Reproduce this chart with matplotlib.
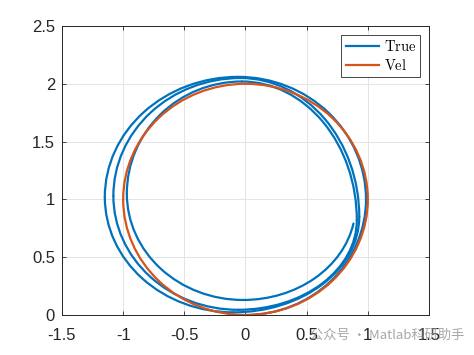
import numpy as np
import matplotlib.pyplot as plt
from matplotlib.patches import Arc
from matplotlib.lines import Line2D

# turning points of the paths (counter-clockwise:
# bottom, right, top, left, bottom, ...)
true_x = [0.00, 0.985, -0.06, -1.15, -0.10, 0.93, -0.04, -1.08, -0.06, 0.91, -0.03, -0.97, -0.02, 0.90]
true_y = [0.00, 1.00, 2.06, 1.02, 0.023, 0.85, 2.05, 1.03, 0.045, 0.82, 2.02, 1.05, 0.13, 0.95]
true_end = (0.89, 0.79)

vel_x = [0.0, 1.0, 0.0, -1.0, 0.0]
vel_y = [0.0, 1.0, 2.0, 1.0, 0.0]

series = ['True', 'Vel']
colors = ['#0072BD', '#D95319']
xticks = [-1.5, -1, -0.5, 0, 0.5, 1, 1.5]
yticks = [0, 0.5, 1, 1.5, 2, 2.5]

LW = 1.6


def draw_path(ax, xs, ys, color, end=None, z=2):
    """join the turning points with quarter ellipses"""
    starts = [270, 0, 90, 180]
    n = len(xs) - 1
    for i in range(n):
        a = starts[i % 4]
        x0, y0, x1, y1 = xs[i], ys[i], xs[i + 1], ys[i + 1]
        if a in (270, 90):
            cx, cy = x0, y1
        else:
            cx, cy = x1, y0
        t2 = a + 90
        if end is not None and i == n - 1:
            t2 = np.degrees(np.arctan2(end[1] - cy, end[0] - cx)) % 360
            if t2 < a:
                t2 += 360
        ax.add_patch(Arc((cx, cy), 2 * abs(x1 - x0), 2 * abs(y1 - y0),
                         theta1=a, theta2=t2, color=color, lw=LW,
                         zorder=z, capstyle='round'))


plt.rcParams['font.family'] = ['Liberation Sans', 'DejaVu Sans']
plt.rcParams['axes.unicode_minus'] = False
plt.rcParams['mathtext.fontset'] = 'cm'

fig = plt.figure(figsize=(4.74, 3.55), dpi=100)
ax = fig.add_axes([62 / 474, 1 - 315 / 355, 367 / 474, 289 / 355])

draw_path(ax, true_x, true_y, colors[0], end=true_end, z=2)
draw_path(ax, vel_x, vel_y, colors[1], z=3)

ax.set_xlim(-1.5, 1.5)
ax.set_ylim(0, 2.5)
ax.set_xticks(xticks)
ax.set_yticks(yticks)
ax.set_xticklabels([f'{v:g}' for v in xticks])
ax.set_yticklabels([f'{v:g}' for v in yticks])
ax.tick_params(direction='in', length=3, width=0.6, labelsize=12,
               colors='#262626', top=True, right=True)
ax.tick_params(axis='x', pad=9)
ax.tick_params(axis='y', pad=5)
ax.grid(True, color='#e4e4e4', lw=0.7)
ax.set_axisbelow(True)
for s in ax.spines.values():
    s.set_color('#262626')
    s.set_linewidth(0.7)

handles = [Line2D([], [], color=c, lw=LW) for c in colors]
leg = ax.legend(handles, [rf'$\mathrm{{{s}}}$' for s in series],
                loc='upper right', fontsize=10.5, handlelength=2.3,
                handletextpad=0.3, borderpad=0.3, labelspacing=0.25,
                borderaxespad=0.6, fancybox=False, framealpha=1)
leg.get_frame().set_edgecolor('#262626')
leg.get_frame().set_linewidth(0.6)

fig.text(0.654, 0.056, '公众号 · Matlab科研助手', fontsize=9.5, color='#8a8a8a',
         alpha=0.75, va='center', family=['Noto Sans CJK SC', 'DejaVu Sans'])

fig.savefig('out.png', dpi=100)
